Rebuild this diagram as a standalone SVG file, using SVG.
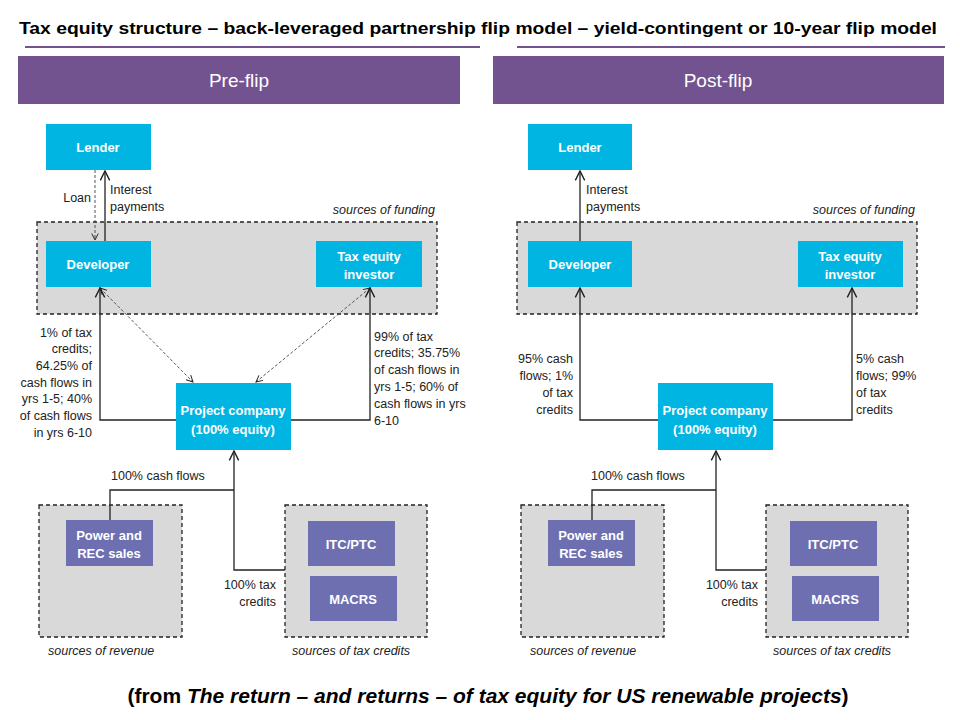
<svg xmlns="http://www.w3.org/2000/svg" width="960" height="720" viewBox="0 0 960 720">
<style>
text{font-family:"Liberation Sans",Arial,sans-serif}
.hdr{fill:#73538f}
.hdrt{fill:#fff;font-size:19px;text-anchor:middle}
.cy{fill:#00b5e2}
.pu{fill:#6d6fb0}
.wt{fill:#fff;font-size:13px;font-weight:bold;text-anchor:middle}
.grp{fill:#d9d9d9;stroke:#222;stroke-width:1.3;stroke-dasharray:4 3}
.lab{font-size:12.5px;fill:#222}
.it{font-size:12.5px;fill:#222;font-style:italic}
.ln{fill:none;stroke:#222;stroke-width:1.3}
.dl{fill:none;stroke:#444;stroke-width:0.9;stroke-dasharray:3 2}
</style>
<defs>
<marker id="ah" viewBox="0 0 10 10" refX="9" refY="5" markerWidth="9" markerHeight="9" orient="auto-start-reverse"><path d="M1,1 L9,5 L1,9" fill="none" stroke="#222" stroke-width="1.2"/></marker>
</defs>
<rect width="960" height="720" fill="#fff"/>
<text x="478" y="34" font-size="17" font-weight="bold" text-anchor="middle" textLength="918" lengthAdjust="spacingAndGlyphs">Tax equity structure – back-leveraged partnership flip model – yield-contingent or 10-year flip model</text>
<line x1="25" y1="47" x2="480" y2="47" stroke="#73538f" stroke-width="2"/>
<line x1="517" y1="47" x2="945" y2="47" stroke="#73538f" stroke-width="2"/>
<g id="hdr-pre"><rect class="hdr" x="18" y="56" width="442" height="48"/><text class="hdrt" x="239" y="87">Pre-flip</text></g>
<g id="hdr-post"><rect class="hdr" x="493" y="56" width="451" height="48"/><text class="hdrt" x="718" y="87">Post-flip</text></g>

<!-- Pre-flip -->
<g id="pre-funding"><rect class="grp" x="37" y="222" width="400" height="92"/><text class="it" x="435" y="214" text-anchor="end">sources of funding</text></g>
<g id="pre-revenue"><rect class="grp" x="39" y="505" width="143" height="132"/><text class="it" x="48" y="655">sources of revenue</text></g>
<g id="pre-taxsrc"><rect class="grp" x="285" y="505" width="142" height="132"/><text class="it" x="292" y="655">sources of tax credits</text></g>
<g id="pre-lender"><rect class="cy" x="46" y="124" width="105" height="46"/><text class="wt" x="98" y="152">Lender</text></g>
<g id="pre-developer"><rect class="cy" x="46" y="241" width="105" height="46"/><text class="wt" x="98" y="269">Developer</text></g>
<g id="pre-taxeq"><rect class="cy" x="316" y="241" width="106" height="46"/><text class="wt" x="369" y="261">Tax equity</text><text class="wt" x="369" y="279">investor</text></g>
<g id="pre-project"><rect class="cy" x="176" y="383" width="115" height="67"/><text class="wt" x="233" y="415">Project company</text><text class="wt" x="233" y="434">(100% equity)</text></g>
<g id="pre-power"><rect class="pu" x="66" y="520" width="87" height="46"/><text class="wt" x="109" y="540" font-weight="normal">Power and</text><text class="wt" x="109" y="558" font-weight="normal">REC sales</text></g>
<g id="pre-itc"><rect class="pu" x="308" y="521" width="87" height="45"/><text class="wt" x="351" y="549" font-weight="normal">ITC/PTC</text></g>
<g id="pre-macrs"><rect class="pu" x="310" y="576" width="87" height="45"/><text class="wt" x="353" y="604" font-weight="normal">MACRS</text></g>

<!-- Post-flip -->
<g id="post-funding"><rect class="grp" x="517" y="222" width="400" height="92"/><text class="it" x="915" y="214" text-anchor="end">sources of funding</text></g>
<g id="post-revenue"><rect class="grp" x="521" y="505" width="143" height="132"/><text class="it" x="530" y="655">sources of revenue</text></g>
<g id="post-taxsrc"><rect class="grp" x="766" y="505" width="142" height="132"/><text class="it" x="773" y="655">sources of tax credits</text></g>
<g id="post-lender"><rect class="cy" x="528" y="124" width="104" height="46"/><text class="wt" x="580" y="152">Lender</text></g>
<g id="post-developer"><rect class="cy" x="528" y="241" width="104" height="46"/><text class="wt" x="580" y="269">Developer</text></g>
<g id="post-taxeq"><rect class="cy" x="798" y="241" width="105" height="46"/><text class="wt" x="850" y="261">Tax equity</text><text class="wt" x="850" y="279">investor</text></g>
<g id="post-project"><rect class="cy" x="658" y="383" width="115" height="67"/><text class="wt" x="715" y="415">Project company</text><text class="wt" x="715" y="434">(100% equity)</text></g>
<g id="post-power"><rect class="pu" x="548" y="520" width="87" height="46"/><text class="wt" x="591" y="540" font-weight="normal">Power and</text><text class="wt" x="591" y="558" font-weight="normal">REC sales</text></g>
<g id="post-itc"><rect class="pu" x="790" y="521" width="87" height="45"/><text class="wt" x="833" y="549" font-weight="normal">ITC/PTC</text></g>
<g id="post-macrs"><rect class="pu" x="792" y="576" width="87" height="45"/><text class="wt" x="835" y="604" font-weight="normal">MACRS</text></g>

<g id="connectors">
<path class="dl" d="M95,170 V240" marker-end="url(#ah)"/>
<path class="ln" d="M105,241 V171" marker-end="url(#ah)"/>
<path class="dl" d="M100,288 L193,382" marker-start="url(#ah)" marker-end="url(#ah)"/>
<path class="dl" d="M370,288 L256,382" marker-start="url(#ah)" marker-end="url(#ah)"/>
<path class="ln" d="M176,420 H100 V288" marker-end="url(#ah)"/>
<path class="ln" d="M291,420 H370 V288" marker-end="url(#ah)"/>
<path class="ln" d="M110,520 V490 H234"/>
<path class="ln" d="M285,570 H234 V451" marker-end="url(#ah)"/>

<path class="ln" d="M580,241 V171" marker-end="url(#ah)"/>
<path class="ln" d="M658,420 H580 V288" marker-end="url(#ah)"/>
<path class="ln" d="M773,420 H852 V288" marker-end="url(#ah)"/>
<path class="ln" d="M592,520 V490 H716"/>
<path class="ln" d="M766,570 H716 V451" marker-end="url(#ah)"/>
</g>

<g id="labels">
<text class="lab" x="91" y="202" text-anchor="end">Loan</text>
<text class="lab" x="110" y="194">Interest</text><text class="lab" x="110" y="211">payments</text>
<text class="lab" text-anchor="end" x="92"><tspan x="92" y="337">1% of tax</tspan><tspan x="92" y="353">credits;</tspan><tspan x="92" y="370">64.25% of</tspan><tspan x="92" y="387">cash flows in</tspan><tspan x="92" y="403">yrs 1-5; 40%</tspan><tspan x="92" y="420">of cash flows</tspan><tspan x="92" y="437">in yrs 6-10</tspan></text>
<text class="lab" x="374"><tspan x="374" y="341">99% of tax</tspan><tspan x="374" y="357">credits; 35.75%</tspan><tspan x="374" y="374">of cash flows in</tspan><tspan x="374" y="391">yrs 1-5; 60% of</tspan><tspan x="374" y="408">cash flows in yrs</tspan><tspan x="374" y="425">6-10</tspan></text>
<text class="lab" x="111" y="480">100% cash flows</text>
<text class="lab" text-anchor="end" x="276"><tspan x="276" y="589">100% tax</tspan><tspan x="276" y="606">credits</tspan></text>

<text class="lab" x="586" y="194">Interest</text><text class="lab" x="586" y="211">payments</text>
<text class="lab" text-anchor="end" x="573"><tspan x="573" y="363">95% cash</tspan><tspan x="573" y="380">flows; 1%</tspan><tspan x="573" y="397">of tax</tspan><tspan x="573" y="414">credits</tspan></text>
<text class="lab" x="856"><tspan x="856" y="363">5% cash</tspan><tspan x="856" y="380">flows; 99%</tspan><tspan x="856" y="397">of tax</tspan><tspan x="856" y="414">credits</tspan></text>
<text class="lab" x="591" y="480">100% cash flows</text>
<text class="lab" text-anchor="end" x="758"><tspan x="758" y="589">100% tax</tspan><tspan x="758" y="606">credits</tspan></text>
</g>
<text x="488" y="703" font-size="21" font-weight="bold" text-anchor="middle" font-family="'Open Sans','DejaVu Sans',sans-serif">(from <tspan font-style="italic">The return – and returns – of tax equity for US renewable projects</tspan>)</text>
</svg>
